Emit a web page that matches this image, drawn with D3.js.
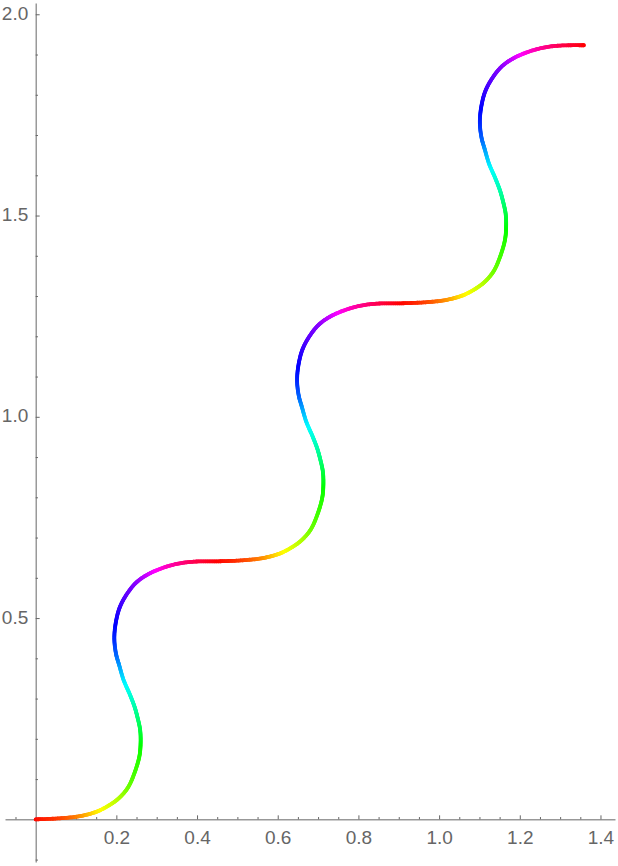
<!DOCTYPE html>
<html><head><meta charset="utf-8">
<script src="https://cdn.jsdelivr.net/npm/d3@7"></script>
<style>html,body{margin:0;padding:0;background:#fff;} svg{display:block;}</style>
</head><body>
<svg id="chart" width="618" height="866"></svg>
<script>
// Curve points (parametric curve, three repeats)
const curveX = [
0.000,0.060,0.110,0.151,0.184,0.209,0.230,0.246,0.257,0.260,0.259,0.252,0.245,0.234,0.218,0.207,0.199,0.195,0.199,0.209,0.227,0.250,0.279,0.316,0.357,0.399,
0.453,0.513,0.563,0.604,0.637,0.662,0.683,0.699,0.710,0.713,0.712,0.705,0.698,0.687,0.671,0.660,0.652,0.648,0.652,0.662,0.680,0.703,0.732,0.769,0.810,0.852,
0.906,0.966,1.016,1.057,1.090,1.115,1.136,1.152,1.163,1.166,1.165,1.158,1.151,1.140,1.124,1.113,1.105,1.101,1.105,1.115,1.133,1.156,1.185,1.222,1.263,1.305,1.359];
const curveY = [
0.000,0.0025,0.008,0.019,0.036,0.055,0.081,0.118,0.156,0.185,0.222,0.255,0.280,0.309,0.346,0.383,0.412,0.450,0.491,0.528,0.561,0.589,0.609,0.625,0.636,0.6405,
0.641,0.6435,0.649,0.660,0.677,0.696,0.722,0.759,0.797,0.826,0.863,0.896,0.921,0.950,0.987,1.024,1.053,1.091,1.132,1.169,1.202,1.230,1.250,1.266,1.277,1.2815,
1.282,1.2845,1.290,1.301,1.318,1.337,1.363,1.400,1.438,1.467,1.504,1.537,1.562,1.591,1.628,1.665,1.694,1.732,1.773,1.810,1.843,1.871,1.891,1.907,1.918,1.9225,1.923];
// parameter driving the hue (hue = fractional part)
const curveT = [
0,0.04,0.09,0.15,0.19,0.22,0.26,0.29,0.31,0.33,0.37,0.41,0.44,0.47,0.51,0.56,0.60,0.64,0.67,0.70,0.73,0.755,0.80,0.86,0.91,0.95,
1,1.04,1.09,1.15,1.19,1.22,1.26,1.29,1.31,1.33,1.37,1.41,1.44,1.47,1.51,1.56,1.60,1.64,1.67,1.70,1.73,1.755,1.80,1.86,1.91,1.95,
2,2.04,2.09,2.15,2.19,2.22,2.26,2.29,2.31,2.33,2.37,2.41,2.44,2.47,2.51,2.56,2.60,2.64,2.67,2.70,2.73,2.755,2.80,2.86,2.91,2.95,3];

const xMajorTicks = [0.2,0.4,0.6,0.8,1.0,1.2,1.4];
const xTickLabels = ["0.2","0.4","0.6","0.8","1.0","1.2","1.4"];
const yMajorTicks = [0.5,1.0,1.5,2.0];
const yTickLabels = ["0.5","1.0","1.5","2.0"];
const xMinorTicks = [-0.05,0.05,0.1,0.15,0.25,0.3,0.35,0.45,0.5,0.55,0.65,0.7,0.75,0.85,0.9,0.95,1.05,1.1,1.15,1.25,1.3,1.35];
const yMinorTicks = [-0.1,0.1,0.2,0.3,0.4,0.6,0.7,0.8,0.9,1.1,1.2,1.3,1.4,1.6,1.7,1.8,1.9];

const svg = d3.select("#chart");
const x = d3.scaleLinear().domain([-0.076, 1.436]).range([5, 615]);
const y = d3.scaleLinear().domain([-0.106, 2.028]).range([862, 3]);
const axisColor = "#666666";
const font = "'Liberation Sans', Arial, sans-serif";

// Axes
const gx = svg.append("g").attr("transform", `translate(0,${y(0)})`);
gx.call(d3.axisBottom(x).tickValues(xMajorTicks).tickFormat((d,i)=>xTickLabels[i])
  .tickSizeInner(-4).tickSizeOuter(0).tickPadding(11.5));
const gxm = svg.append("g").attr("transform", `translate(0,${y(0)})`);
gxm.call(d3.axisBottom(x).tickValues(xMinorTicks).tickFormat("").tickSizeInner(-2.3).tickSizeOuter(0));
gxm.select(".domain").remove();

const gy = svg.append("g").attr("transform", `translate(${x(0)},0)`);
gy.call(d3.axisLeft(y).tickValues(yMajorTicks).tickFormat((d,i)=>yTickLabels[i])
  .tickSizeInner(-4).tickSizeOuter(0).tickPadding(7.4));
const gym = svg.append("g").attr("transform", `translate(${x(0)},0)`);
gym.call(d3.axisLeft(y).tickValues(yMinorTicks).tickFormat("").tickSizeInner(-2.3).tickSizeOuter(0));
gym.select(".domain").remove();

svg.selectAll(".domain, .tick line").attr("stroke", axisColor).attr("stroke-width", 1);
svg.selectAll(".tick text").attr("fill", axisColor).style("font-family", font).style("font-size", "19px");
gy.selectAll(".tick text").attr("dy", "0.27em");

// Curve: record the Catmull-Rom bezier segments, then paint them with hue
const pts = curveX.map((v,i)=>({x:v, y:curveY[i], t:curveT[i]}));
const segs = []; let cur = null;
const ctx = {
  moveTo(a,b){cur=[a,b];},
  lineTo(a,b){segs.push([cur,cur,[a,b],[a,b]]); cur=[a,b];},
  bezierCurveTo(a,b,c,d,e,f){segs.push([cur,[a,b],[c,d],[e,f]]); cur=[e,f];},
  closePath(){}
};
d3.line().x(d=>x(d.x)).y(d=>y(d.y)).curve(d3.curveCatmullRom.alpha(0.5)).context(ctx)(pts);

function bez(s,u){
  const m=1-u;
  return [m*m*m*s[0][0]+3*m*m*u*s[1][0]+3*m*u*u*s[2][0]+u*u*u*s[3][0],
          m*m*m*s[0][1]+3*m*m*u*s[1][1]+3*m*u*u*s[2][1]+u*u*u*s[3][1]];
}
const pieces = [];
const N = 12;
segs.forEach((s,i)=>{
  const t0 = pts[i].t, t1 = pts[i+1].t;
  for(let k=0;k<N;k++){
    const u0=k/N, u1=(k+1)/N;
    const p0=bez(s,u0), p1=bez(s,u1);
    const tm = t0+(t1-t0)*(u0+u1)/2;
    const h = tm - Math.floor(tm);
    pieces.push({p0,p1,h});
  }
});
svg.append("g").selectAll("line").data(pieces).join("line")
  .attr("x1",d=>d.p0[0]).attr("y1",d=>d.p0[1])
  .attr("x2",d=>d.p1[0]).attr("y2",d=>d.p1[1])
  .attr("stroke",d=>d3.hsl(d.h*360,1,0.5).toString())
  .attr("stroke-width",3.8).attr("stroke-linecap","round");
</script>
</body></html>
